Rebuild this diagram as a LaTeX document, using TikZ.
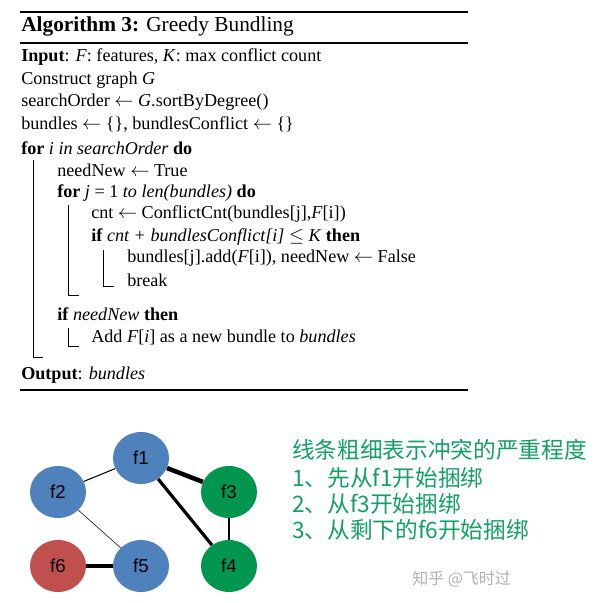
\documentclass[tikz,border=0pt]{standalone}
\usepackage{fontspec}
\setmainfont{Liberation Serif}
\newfontfamily\cjk{Noto Sans CJK SC}
\newfontfamily\sans{Liberation Sans}
\usetikzlibrary{shapes.geometric}
\definecolor{nblue}{RGB}{79,129,189}
\definecolor{ngreen}{RGB}{0,150,80}
\definecolor{nred}{RGB}{192,80,77}
\definecolor{tgreen}{RGB}{20,160,100}
\begin{document}
\begin{tikzpicture}[x=0.75pt,y=-0.75pt,
  ln/.style={anchor=west,inner sep=0pt,font=\fontsize{13.6}{15}\selectfont},
  fn/.style={ellipse,minimum width=56*0.75pt,minimum height=52*0.75pt,inner sep=0pt,font=\sans\fontsize{14}{16}\selectfont},
  bar/.style={line width=0.6pt},
  ct/.style={anchor=west,inner sep=0pt,text=tgreen,font=\cjk\fontsize{17}{18}\selectfont}]
\useasboundingbox[fill=white] (0,0) rectangle (600,603);
\draw[line width=1.2pt] (20,12) -- (468,12);
\node[ln,font=\fontsize{16}{18}\selectfont] (title) at (21,26) {\textbf{Algorithm 3:} Greedy Bundling};
\draw[line width=0.9pt] (20,43) -- (468,43);
\node[ln] (l1) at (21,57) {\textbf{Input}: \textit{F}: features, \textit{K}: max conflict count};
\node[ln] (l2) at (21,80) {Construct graph \textit{G}};
\node[ln] (l3) at (21,102) {searchOrder $\leftarrow$ \textit{G}.sortByDegree()};
\node[ln] (l4) at (21,125) {bundles $\leftarrow$ \{\}, bundlesConflict $\leftarrow$ \{\}};
\node[ln] (l5) at (21,148) {\textbf{for} \textit{i in searchOrder} \textbf{do}};
\node[ln] (l6) at (57,170) {needNew $\leftarrow$ True};
\node[ln] (l7) at (57,193) {\textbf{for} \textit{j} = 1 \textit{to len(bundles)} \textbf{do}};
\node[ln] (l8) at (91,214) {cnt $\leftarrow$ ConflictCnt(bundles[j],\textit{F}[i])};
\node[ln] (l9) at (91,237) {\textbf{if} \textit{cnt + bundlesConflict[i]} $\le$ \textit{K} \textbf{then}};
\node[ln] (l10) at (127,258) {bundles[j].add(\textit{F}[i]), needNew $\leftarrow$ False};
\node[ln] (l11) at (127,280) {break};
\node[ln] (l12) at (57,314) {\textbf{if} \textit{needNew} \textbf{then}};
\node[ln] (l13) at (91,337) {Add \textit{F}[\textit{i}] as a new bundle to \textit{bundles}};
\node[ln] (l14) at (21,375) {\textbf{Output}: \textit{bundles}};
\draw[line width=1.2pt] (20,390) -- (468,390);
\draw[bar] (33,160) -- (33,357) -- (43,357);
\draw[bar] (68,205) -- (68,295) -- (79,295);
\draw[bar] (103,250) -- (103,286) -- (114,286);
\draw[bar] (68,328) -- (68,346) -- (79,346);
% graph
\node[fn,fill=nblue] (f1) at (141,458) {f1};
\node[fn,fill=nblue] (f2) at (58,492) {f2};
\node[fn,fill=ngreen] (f3) at (229,492) {f3};
\node[fn,fill=nred] (f6) at (58,566) {f6};
\node[fn,fill=nblue] (f5) at (141,566) {f5};
\node[fn,fill=ngreen] (f4) at (229,566) {f4};
\draw[line width=0.8pt] (f1) -- (f2);
\draw[line width=3.4pt] (f1) -- (f3);
\draw[line width=2.4pt] (f1) -- (f4);
\draw[line width=0.4pt] (f2) -- (f5);
\draw[line width=0.8pt] (f3) -- (f4);
\draw[line width=2.6pt] (f6) -- (f5);
\node[ct] (t1) at (292,450) {线条粗细表示冲突的严重程度};
\node[ct] (t2) at (292,478) {1、先从f1开始捆绑};
\node[ct] (t3) at (292,504) {2、从f3开始捆绑};
\node[ct] (t4) at (292,530) {3、从剩下的f6开始捆绑};
\node[anchor=west,inner sep=0pt,text=gray!60,font=\cjk\fontsize{12}{14}\selectfont] (wm) at (412,579) {知乎 @飞时过};
\end{tikzpicture}
\end{document}
